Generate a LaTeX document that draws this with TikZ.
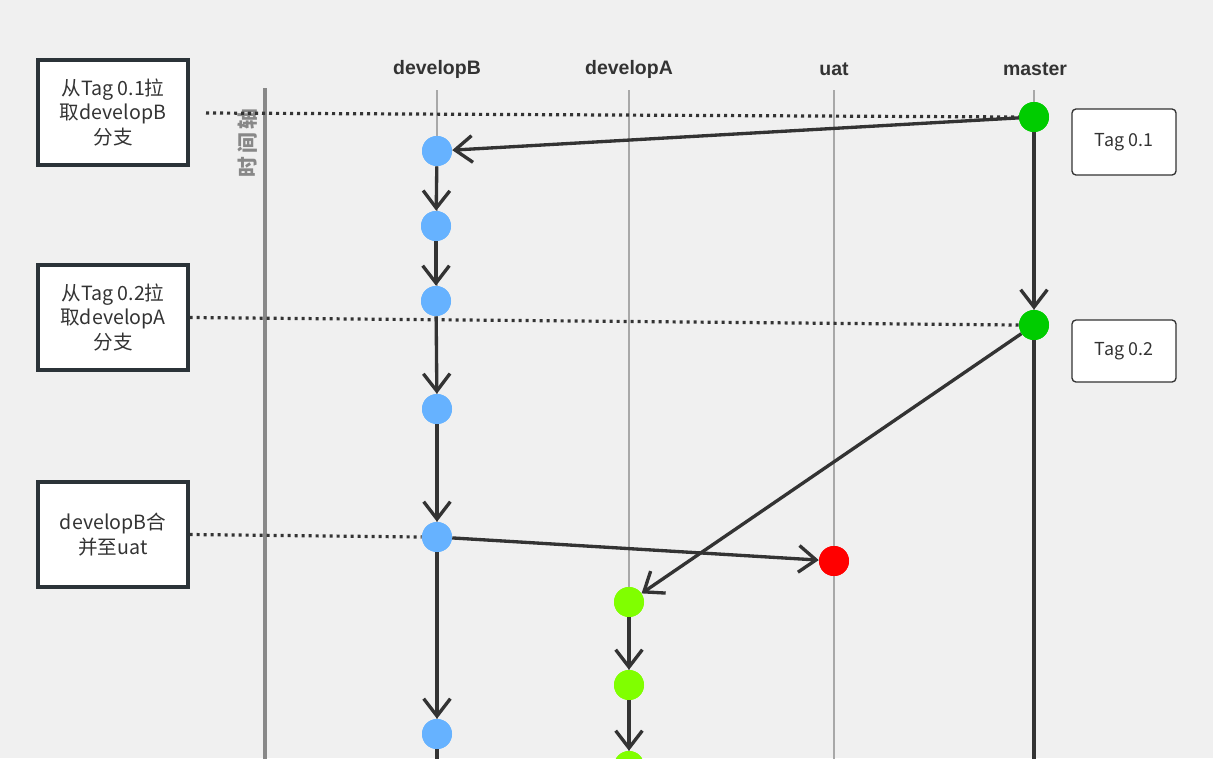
\documentclass[tikz,border=0pt]{standalone}
\usepackage{fontspec}
\setmainfont{Noto Sans CJK SC}
\newfontfamily\hdfont{Liberation Sans}
\usetikzlibrary{arrows.meta}
\definecolor{bg}{HTML}{F0F0F0}
\definecolor{ink}{HTML}{333333}
\definecolor{boxline}{HTML}{2B3338}
\definecolor{lane}{HTML}{A8A8A8}
\definecolor{axis}{HTML}{888888}
\definecolor{cblue}{HTML}{66B2FF}
\definecolor{cgreen}{HTML}{00CC00}
\definecolor{clime}{HTML}{80FF00}
\definecolor{cred}{HTML}{FF0000}
\tikzset{
  hd/.style={font=\hdfont\bfseries\fontsize{14.6}{16}\selectfont, text=ink, inner sep=0pt},
  note/.style={draw=boxline, line width=2.3pt, fill=white, minimum width=112.5pt, minimum height=78.75pt, align=center, text=ink, font=\fontsize{14.7}{18.3}\selectfont, inner sep=0pt},
  tagbox/.style={draw=ink, line width=1pt, fill=white, rounded corners=3pt, minimum width=78pt, align=center, text=ink, font=\fontsize{13.4}{15}\selectfont, inner sep=0pt},
  commit/.style={circle, inner sep=0pt, minimum size=22.5pt, draw=none},
  lanel/.style={draw=lane, line width=0.8pt},
  link/.style={draw=ink, line width=2.5pt, -{Straight Barb[length=13pt,width=20pt]}},
  plain/.style={draw=ink, line width=2.5pt},
  dots/.style={draw=ink, line width=2.4pt, dash pattern=on 2.3pt off 2.95pt}
}
\begin{document}
\begin{tikzpicture}[x=0.75pt,y=-0.75pt]
\useasboundingbox (0,0) rectangle (1213,758);
\clip (0,0) rectangle (1213,758);
\fill[bg] (0,0) rectangle (1213,758);

% lane headers
\node[hd] (hB) at (437,69) {developB};
\node[hd] (hA) at (629,69) {developA};
\node[hd] (hU) at (834,69) {uat};
\node[hd] (hM) at (1035,69) {master};

% lane lines
\coordinate (lBt) at (437,90);  \coordinate (lBb) at (437,760);
\coordinate (lAt) at (629,90);  \coordinate (lAb) at (629,760);
\coordinate (lUt) at (834,90);  \coordinate (lUb) at (834,760);
\coordinate (lMt) at (1034,90); \coordinate (lMb) at (1034,760);
\draw[lanel] (lBt) -- (lBb);
\draw[lanel] (lAt) -- (lAb);
\draw[lanel] (lUt) -- (lUb);
\draw[lanel] (lMt) -- (lMb);

% time axis
\coordinate (axt) at (265,88); \coordinate (axb) at (265,760);
\draw[draw=axis, line width=3pt] (axt) -- (axb);
\node[rotate=90, text=axis, font=\bfseries\fontsize{15.5}{16}\selectfont, inner sep=0pt] (axl) at (247.5,143) {时\hspace{2.5pt}间\hspace{2.5pt}轴};

% notes
\node[note] (n1) at (113,112.5) {从Tag 0.1拉\\取developB\\分支};
\node[note] (n2) at (113,317.5) {从Tag 0.2拉\\取developA\\分支};
\node[note] (n3) at (113,534.5) {developB合\\并至uat};

\node[tagbox, minimum height=49.5pt] (t1) at (1124,142) {Tag 0.1};
\node[tagbox, minimum height=46.5pt] (t2) at (1124,351) {Tag 0.2};

% commits
\node[commit, fill=cgreen] (m1) at (1034,117) {};
\node[commit, fill=cgreen] (m2) at (1034,325) {};
\node[commit, fill=cblue] (b1) at (437,151) {};
\node[commit, fill=cblue] (b2) at (436,226) {};
\node[commit, fill=cblue] (b3) at (436,301) {};
\node[commit, fill=cblue] (b4) at (437,409) {};
\node[commit, fill=cblue] (b5) at (437,537) {};
\node[commit, fill=cblue] (b6) at (437,734) {};
\node[commit, fill=cred] (u1) at (834,561) {};
\node[commit, fill=clime] (a1) at (629,602) {};
\node[commit, fill=clime] (a2) at (629,685) {};
\node[commit, fill=clime] (a3) at (629,766) {};

% dotted guides
\coordinate (d1) at (206,113);
\draw[dots] (d1) -- (m1.west);
\draw[dots] (n2.east) -- (m2.west);
\draw[dots] (n3.east) -- (b5.west);

% connectors
\draw[link] (m1) -- (b1);
\draw[link] (b1) -- (b2);
\draw[link] (b2) -- (b3);
\draw[link] (b3) -- (b4);
\draw[link] (b4) -- (b5);
\draw[link] (b5) -- (b6);
\draw[link] (b5) -- (u1);
\draw[link] (m1) -- (m2);
\draw[link] (m2) -- (a1);
\draw[link] (a1) -- (a2);
\draw[link] (a2) -- (a3);
\coordinate (bEnd) at (437,770);
\coordinate (mEnd) at (1034,770);
\draw[plain] (b6) -- (bEnd);
\draw[plain] (m2) -- (mEnd);

% redraw commits on top
\foreach \n/\c in {m1/cgreen,m2/cgreen,b1/cblue,b2/cblue,b3/cblue,b4/cblue,b5/cblue,b6/cblue,u1/cred,a1/clime,a2/clime,a3/clime}{
  \fill[\c] (\n.center) circle (11.25pt);
}
\end{tikzpicture}
\end{document}
